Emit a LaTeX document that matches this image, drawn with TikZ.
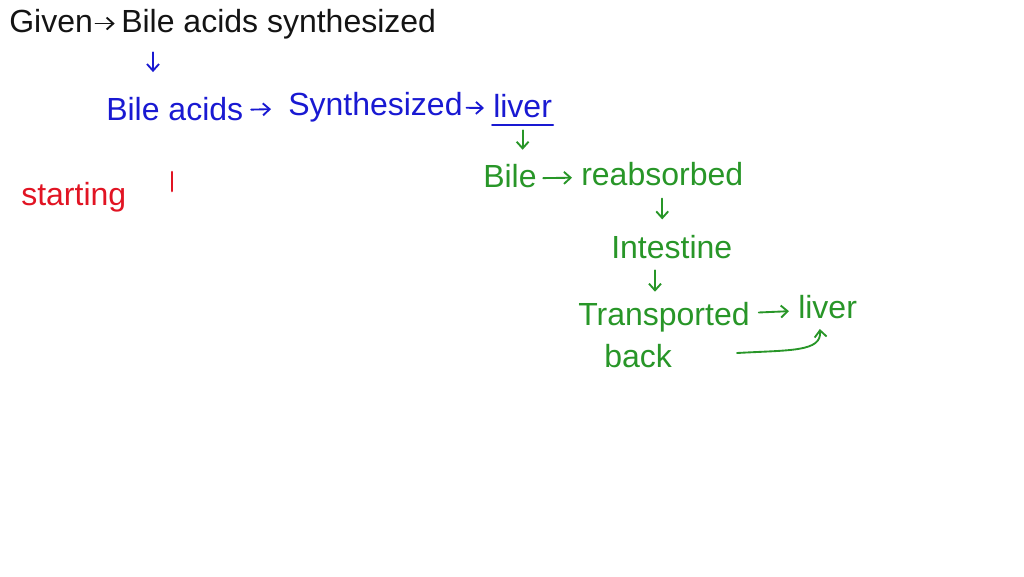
\documentclass[tikz,border=0pt]{standalone}
\usepackage{fontspec}
\setmainfont{Liberation Sans}
\usetikzlibrary{arrows.meta}

\definecolor{penblack}{RGB}{20,20,20}
\definecolor{penblue}{RGB}{25,25,210}
\definecolor{pengreen}{RGB}{40,150,40}
\definecolor{penred}{RGB}{225,20,35}

\tikzset{
  hand/.style={anchor=base west, inner sep=0.75pt, text height=18pt, text depth=5.3pt, font=\fontsize{24}{28}\selectfont},
  pen/.style={line width=1.4pt, line cap=round, -{Straight Barb[length=5pt,width=9pt]}},
}

\begin{document}
\begin{tikzpicture}[x=0.75pt,y=0.75pt,yscale=-1,xscale=1]
	\useasboundingbox (0,0) rectangle (1024,576);

	% Text Node
	\node (given) [hand, text=penblack] at (8,32) {Given};
	% Text Node
	\node (bilesyn) [hand, text=penblack] at (120,32) {Bile acids synthesized};
	% Text Node
	\node (acids) [hand, text=penblue] at (105,120) {Bile acids};
	% Text Node
	\node (synth) [hand, text=penblue] at (287,115) {Synthesized};
	% Text Node
	\node (liverA) [hand, text=penblue] at (492,117) {liver};
	% Text Node
	\node (start) [hand, text=penred] at (20,205) {starting};
	% Text Node
	\node (bile) [hand, text=pengreen] at (482,187) {Bile};
	% Text Node
	\node (reabs) [hand, text=pengreen] at (580,185) {reabsorbed};
	% Text Node
	\node (intest) [hand, text=pengreen] at (610,258) {Intestine};
	% Text Node
	\node (transp) [hand, text=pengreen] at (577,325) {Transported};
	% Text Node
	\node (liverB) [hand, text=pengreen] at (797,318) {liver};
	% Text Node
	\node (back) [hand, text=pengreen] at (603,367) {back};

	\coordinate (xa) at (153,0);
	\coordinate (xb) at (655,0);
	\coordinate (bk) at (737,353);

	% Arrows
	\draw [pen, penblack, shorten <=1pt, shorten >=4pt] (given) -- (bilesyn);
	\draw [pen, penblue, shorten <=9pt, shorten >=17pt] (bilesyn.south -| xa) -- (acids.north -| xa);
	\draw [pen, penblue, shorten <=5pt, shorten >=12pt] (acids) -- (synth);
	\draw [pen, penblue, shorten <=2pt, shorten >=6pt] (synth) -- (liverA);
	\draw [penblue, line width=1.4pt, line cap=round] (liverA.south west) -- (liverA.south east);
	\draw [pen, pengreen, shorten <=3.75pt, shorten >=9pt] (liverA.south) -- (liverA.south |- bile.north);
	\draw [pen, pengreen, shorten <=4pt, shorten >=6pt] (bile) -- (reabs);
	\draw [pen, pengreen, shorten <=4pt, shorten >=10pt] (reabs.south) -- (reabs.south |- intest.north);
	\draw [pen, pengreen, shorten <=3pt, shorten >=6pt] (intest.south -| xb) -- (transp.north -| xb);
	\draw [pen, pengreen, shorten <=6pt, shorten >=6pt] (transp) -- (liverB);
	\draw [pen, pengreen, shorten >=2pt] (bk) .. controls (790,350) and (822,352) .. ([xshift=-6pt]liverB.south);

	% Red stroke
	\draw [penred, line width=2pt, line cap=round] (172,172) -- (172,191);

\end{tikzpicture}
\end{document}
